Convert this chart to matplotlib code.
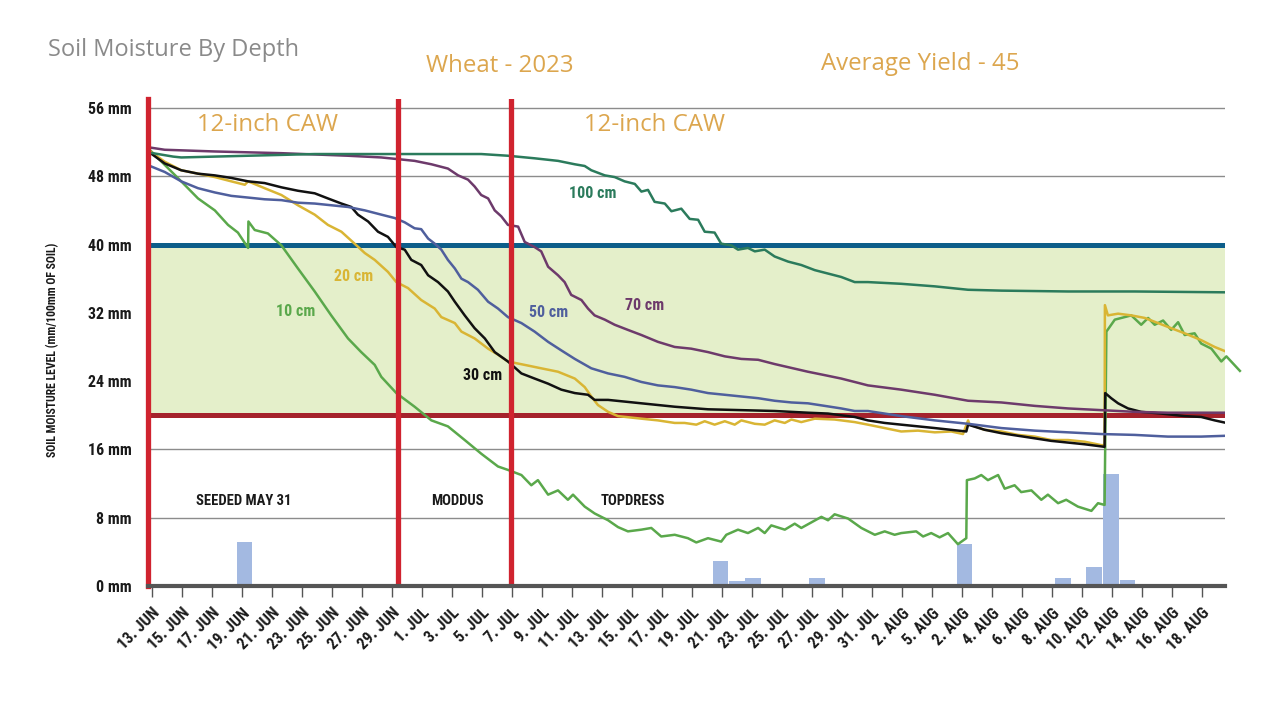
import matplotlib
matplotlib.use("Agg")
import matplotlib.pyplot as plt

# x positions are in tick units (one tick label = one step)
tick_labels = ["13. JUN", "15. JUN", "17. JUN", "19. JUN", "21. JUN", "23. JUN", "25. JUN",
	"27. JUN", "29. JUN", "1. JUL", "3. JUL", "5. JUL", "7. JUL", "9. JUL", "11. JUL",
	"13. JUL", "15. JUL", "17. JUL", "19. JUL", "21. JUL", "23. JUL", "25. JUL", "27. JUL",
	"29. JUL", "31. JUL", "2. AUG", "5. AUG", "2. AUG", "4. AUG", "6. AUG", "8. AUG",
	"10. AUG", "12. AUG", "14. AUG", "16. AUG", "18. AUG"]
y_ticks = [0, 8, 16, 24, 32, 40, 48, 56]

rain_x = [3.09, 18.95, 19.5, 20.04, 22.17, 27.09, 30.37, 31.4, 31.97, 32.53]
rain_mm = [5.15, 2.93, 0.6, 0.94, 0.94, 4.96, 0.94, 2.23, 13.12, 0.7]

events_x = [8.19, 11.96]

t10 = [-0.13, 0.98, 1.54, 2.10, 2.54, 2.87, 3.21, 3.22, 3.43, 3.87, 4.32, 4.87, 5.43, 5.98,
	6.54, 6.98, 7.43, 7.65, 8.15, 8.76, 9.32, 9.87, 10.43, 10.98, 11.54, 11.87, 12.32, 12.65,
	12.87, 13.21, 13.54, 13.87, 14.04, 14.43, 14.76, 15.21, 15.54, 15.87, 16.32, 16.65, 16.98,
	17.43, 17.87, 18.15, 18.54, 18.98, 19.15, 19.54, 19.87, 20.21, 20.43, 20.65, 21.10, 21.43,
	21.65, 22.32, 22.54, 22.76, 23.21, 23.65, 24.10, 24.43, 24.76, 24.98, 25.48, 25.71, 25.98,
	26.26, 26.54, 26.87, 27.15, 27.17, 27.43, 27.65, 27.87, 28.21, 28.43, 28.76, 28.98, 29.32,
	29.65, 29.87, 30.21, 30.48, 30.87, 31.32, 31.54, 31.76, 31.82, 32.10, 32.43, 32.65, 32.98,
	33.21, 33.43, 33.71, 33.98, 34.21, 34.43, 34.76, 34.98, 35.32, 35.65, 35.82, 36.27]
v10 = [51.3, 47.4, 45.4, 44.0, 42.3, 41.4, 39.6, 42.7, 41.7, 41.3, 39.9, 37.2, 34.5, 31.7,
	29.0, 27.4, 25.9, 24.5, 22.6, 21.0, 19.4, 18.7, 17.1, 15.5, 14.0, 13.6, 13.0, 11.8,
	12.4, 10.7, 11.2, 10.1, 10.7, 9.3, 8.5, 7.7, 6.9, 6.4, 6.6, 6.8, 5.8,
	6.0, 5.6, 5.1, 5.6, 5.2, 6.0, 6.6, 6.2, 6.8, 6.2, 7.1, 6.6, 7.3,
	6.8, 8.1, 7.7, 8.4, 7.9, 6.8, 6.0, 6.4, 6.0, 6.2, 6.4, 5.8, 6.2,
	5.7, 6.2, 4.9, 5.6, 12.4, 12.6, 13.0, 12.4, 13.0, 11.4, 11.8, 11.0, 11.2,
	10.1, 10.7, 9.7, 10.1, 9.3, 8.8, 9.7, 9.5, 29.8, 31.2, 31.5, 31.7, 30.6,
	31.4, 30.6, 31.1, 30.0, 30.9, 29.4, 29.6, 28.4, 27.8, 26.3, 26.9, 25.2]

t20 = [-0.13, 0.43, 0.98, 1.54, 2.10, 2.65, 3.10, 3.21, 3.76, 4.32, 4.87, 5.43, 5.87, 6.32,
	6.76, 7.10, 7.43, 7.87, 8.15, 8.54, 8.98, 9.43, 9.65, 10.10, 10.32, 10.76, 11.21, 11.54,
	11.87, 12.43, 12.98, 13.54, 14.10, 14.43, 14.65, 14.87, 15.21, 15.54, 16.32, 16.87, 17.43,
	17.76, 18.15, 18.43, 18.76, 19.10, 19.43, 19.65, 20.10, 20.43, 20.76, 21.10, 21.32, 21.65,
	22.10, 22.76, 23.43, 23.87, 24.43, 24.98, 25.54, 26.10, 26.65, 27.04, 27.21, 27.26, 27.76,
	28.32, 28.87, 29.43, 29.98, 30.54, 31.10, 31.65, 31.76, 31.77, 31.87, 32.21, 32.65, 33.10,
	33.54, 33.98, 34.43, 34.98, 35.43, 35.78]
v20 = [51.1, 49.7, 48.7, 48.3, 47.9, 47.4, 47.0, 47.4, 46.6, 45.8, 44.6, 43.5, 42.3, 41.5,
	40.1, 39.0, 38.2, 36.8, 35.6, 34.9, 33.5, 32.5, 31.5, 30.8, 29.8, 29.0, 27.8, 27.1,
	26.3, 25.9, 25.5, 25.1, 24.3, 23.3, 22.2, 21.2, 20.4, 19.9, 19.6, 19.4, 19.1,
	19.1, 18.9, 19.3, 18.9, 19.3, 18.9, 19.4, 19.0, 18.9, 19.4, 19.1, 19.5, 19.2,
	19.6, 19.5, 19.2, 18.9, 18.5, 18.1, 18.2, 18.0, 18.1, 17.8, 19.4, 18.9, 18.3,
	18.1, 17.7, 17.5, 17.1, 17.1, 16.9, 16.5, 16.5, 32.9, 31.7, 31.9, 31.7, 31.4,
	30.8, 30.2, 29.6, 28.8, 28.0, 27.5]

t30 = [-0.12, 0.43, 0.98, 1.54, 2.10, 2.65, 3.21, 3.76, 4.32, 4.87, 5.43, 5.87, 6.32, 6.65,
	6.87, 7.21, 7.54, 7.87, 8.15, 8.43, 8.65, 8.98, 9.21, 9.54, 9.87, 10.10, 10.43, 10.76,
	11.10, 11.43, 11.87, 12.32, 12.76, 13.21, 13.65, 14.10, 14.54, 14.76, 15.21, 16.32, 17.43,
	18.54, 19.65, 20.76, 21.87, 22.54, 22.98, 23.43, 23.87, 24.43, 24.98, 25.54, 26.10, 27.15,
	27.21, 27.76, 28.32, 28.87, 29.43, 29.98, 30.54, 31.10, 31.76, 31.78, 31.98, 32.21, 32.54,
	32.98, 33.65, 34.43, 34.98, 35.43, 35.82]
v30 = [50.9, 49.5, 48.7, 48.3, 48.1, 47.8, 47.4, 47.2, 46.7, 46.3, 46.0, 45.4, 44.8, 44.4,
	43.5, 42.7, 41.5, 40.9, 39.7, 39.4, 38.2, 37.6, 36.4, 35.6, 34.5, 33.3, 31.7, 30.2,
	29.0, 27.4, 26.3, 24.9, 24.3, 23.7, 23.0, 22.6, 22.4, 21.8, 21.8, 21.4, 21.0,
	20.7, 20.6, 20.5, 20.3, 20.2, 20.0, 19.8, 19.4, 19.1, 18.9, 18.7, 18.5, 18.1,
	18.9, 18.3, 17.9, 17.6, 17.3, 17.0, 16.8, 16.6, 16.3, 22.6, 22.0, 21.4, 20.8,
	20.4, 20.2, 19.9, 19.8, 19.4, 19.1]

t50 = [-0.13, 0.43, 0.98, 1.54, 2.10, 2.65, 3.21, 3.76, 4.32, 4.87, 5.43, 5.98, 6.54, 7.10,
	7.65, 8.10, 8.43, 8.76, 8.98, 9.21, 9.43, 9.65, 9.87, 10.10, 10.32, 10.54, 10.87, 11.21,
	11.54, 11.87, 12.32, 12.76, 13.21, 13.65, 14.10, 14.65, 15.21, 15.76, 16.32, 16.87, 17.43,
	17.98, 18.54, 19.10, 19.65, 20.21, 20.76, 21.32, 21.87, 22.43, 22.98, 23.43, 23.87, 24.98,
	26.10, 27.21, 28.32, 29.43, 30.54, 31.65, 32.76, 33.87, 34.98, 35.82]
v50 = [49.3, 48.5, 47.4, 46.6, 46.1, 45.7, 45.5, 45.3, 45.2, 44.9, 44.8, 44.6, 44.4, 44.0,
	43.5, 43.1, 42.6, 41.9, 41.8, 40.7, 40.1, 39.4, 38.2, 37.2, 36.0, 35.6, 34.7, 33.3,
	32.5, 31.5, 30.8, 29.8, 28.6, 27.6, 26.6, 25.5, 24.9, 24.5, 23.9, 23.5, 23.3,
	23.0, 22.6, 22.4, 22.2, 22.0, 21.7, 21.5, 21.4, 21.1, 20.8, 20.5, 20.5, 19.9,
	19.4, 19.0, 18.5, 18.2, 18.0, 17.8, 17.7, 17.5, 17.5, 17.6]

t70 = [-0.13, 0.43, 2.10, 4.32, 6.54, 7.65, 8.21, 8.76, 9.32, 9.87, 10.21, 10.54, 10.76, 10.98,
	11.21, 11.43, 11.65, 11.87, 12.21, 12.43, 12.76, 12.98, 13.21, 13.54, 13.76, 13.98, 14.32,
	14.54, 14.76, 15.10, 15.43, 15.87, 16.32, 16.87, 17.43, 17.98, 18.54, 19.10, 19.65, 20.21,
	20.76, 21.87, 22.43, 22.98, 23.54, 23.87, 24.98, 26.10, 27.21, 28.32, 29.43, 30.54, 31.65,
	32.76, 33.87, 35.82]
v70 = [51.4, 51.1, 50.9, 50.7, 50.4, 50.2, 50.0, 49.8, 49.4, 48.9, 48.1, 47.6, 46.8, 45.8,
	45.4, 44.0, 43.3, 42.3, 42.1, 40.3, 39.7, 39.2, 37.4, 36.4, 35.6, 34.1, 33.5,
	32.5, 31.7, 31.2, 30.6, 30.0, 29.4, 28.6, 28.0, 27.8, 27.4, 26.9, 26.6, 26.5,
	26.0, 25.1, 24.7, 24.3, 23.8, 23.5, 23.0, 22.4, 21.7, 21.5, 21.1, 20.8, 20.6,
	20.4, 20.3, 20.3]

t100 = [-0.13, 0.71, 0.98, 3.21, 5.43, 8.21, 10.98, 11.87, 12.76, 13.54, 14.10, 14.43, 14.65,
	15.10, 15.43, 15.76, 16.10, 16.32, 16.54, 16.76, 17.10, 17.32, 17.65, 17.93, 18.21, 18.43,
	18.76, 18.98, 19.32, 19.54, 19.87, 20.10, 20.43, 20.76, 21.21, 21.65, 22.10, 22.54, 22.98,
	23.43, 23.87, 24.98, 26.10, 27.21, 28.32, 30.54, 32.76, 35.82]
v100 = [50.8, 50.3, 50.2, 50.4, 50.6, 50.6, 50.6, 50.4, 50.1, 49.8, 49.4, 49.2, 48.7,
	48.1, 47.9, 47.4, 47.1, 46.2, 46.4, 45.0, 44.8, 43.9, 44.2, 43.0, 42.9, 41.5,
	41.4, 40.1, 39.9, 39.4, 39.6, 39.2, 39.4, 38.6, 38.0, 37.6, 37.0, 36.6, 36.2,
	35.6, 35.6, 35.4, 35.1, 34.7, 34.6, 34.5, 34.5, 34.4]

series = [
	("10 cm", t10, v10, "#5aa84b", 4.81, 32.2),
	("20 cm", t20, v20, "#d9b534", 6.71, 36.3),
	("30 cm", t30, v30, "#111111", 11.01, 24.7),
	("50 cm", t50, v50, "#4f5f9d", 13.21, 32.0),
	("70 cm", t70, v70, "#6d3a6b", 16.44, 32.9),
	("100 cm", t100, v100, "#2b7b5c", 14.71, 46.0),
]

COND = ["Roboto Condensed", "DejaVu Sans Condensed", "Roboto", "DejaVu Sans"]
TITLE = ["Open Sans", "DejaVu Sans"]
GOLD = "#dca64e"
cond = dict(family=COND, fontweight="bold", fontstretch="condensed")

fig = plt.figure(figsize=(12.74, 7.06), dpi=100)
ax = fig.add_axes([0.11617, 0.16997, 0.84576, 0.68924])
ax.set_xlim(-0.127, 35.79)
ax.set_ylim(0, 57)

for y in y_ticks[1:]:
	ax.axhline(y, color="#8c8c8c", linewidth=1.0, zorder=0.3)
ax.axhspan(20, 40, color="#e4efca", zorder=0.5, linewidth=0)
ax.axhline(40, color="#0d5e8a", linewidth=3.6, zorder=1.5)
ax.axhline(20, color="#a5222c", linewidth=3.6, zorder=1.5)

ax.bar(rain_x, rain_mm, width=0.52, color="#a3b9e1", zorder=1)

for name, t, v, col, lx, ly in series:
	ax.plot(t, v, color=col, linewidth=1.8, zorder=3, clip_on=(name != "10 cm"))
	ax.text(lx, ly, name, color=col, fontsize=11.5, ha="center", va="center", zorder=5, **cond)

ax.axvline(-0.127, color="#d0232f", linewidth=3.8, zorder=4, clip_on=False)
for x in events_x:
	ax.axvline(x, color="#d0232f", linewidth=3.8, zorder=4)

for x, s in [(3.07, "SEEDED MAY 31"), (10.17, "MODDUS"), (16.04, "TOPDRESS")]:
	ax.text(x, 10.0, s, fontsize=10.5, color="#1a1a1a", ha="center", va="center", zorder=5, **cond)
for x in [3.84, 16.74]:
	ax.text(x, 54.0, "12-inch CAW", fontsize=17.3, family=TITLE, color=GOLD,
		ha="center", va="center", zorder=5)

ax.set_xticks(range(len(tick_labels)))
ax.set_xticklabels(tick_labels, rotation=45, ha="right", va="top", rotation_mode="anchor",
	fontsize=11.5, color="#1a1a1a", **cond)
ax.set_yticks(y_ticks)
ax.set_yticklabels(["%d mm" % y for y in y_ticks], fontsize=11.5, color="#1a1a1a", **cond)
ax.tick_params(axis="x", length=8, width=1, color="#555555", pad=6)
ax.tick_params(axis="y", length=0, pad=12)
for s in ["top", "right", "left"]:
	ax.spines[s].set_visible(False)
ax.spines["bottom"].set_color("#555555")
ax.spines["bottom"].set_linewidth(3)
ax.spines["bottom"].set_zorder(4.5)

fig.text(0.0416, 0.504, "SOIL MOISTURE LEVEL (mm/100mm OF SOIL)", rotation=90,
	fontsize=8.5, color="#1a1a1a", ha="center", va="center", **cond)
fig.text(0.0377, 0.929, "Soil Moisture By Depth", fontsize=17, family=TITLE,
	color="#8a8a8a", ha="left", va="center")
fig.text(0.392, 0.907, "Wheat - 2023", fontsize=17.3, family=TITLE, color=GOLD,
	ha="center", va="center")
fig.text(0.722, 0.910, "Average Yield - 45", fontsize=17.3, family=TITLE, color=GOLD,
	ha="center", va="center")

fig.savefig("out.png", dpi=100)
